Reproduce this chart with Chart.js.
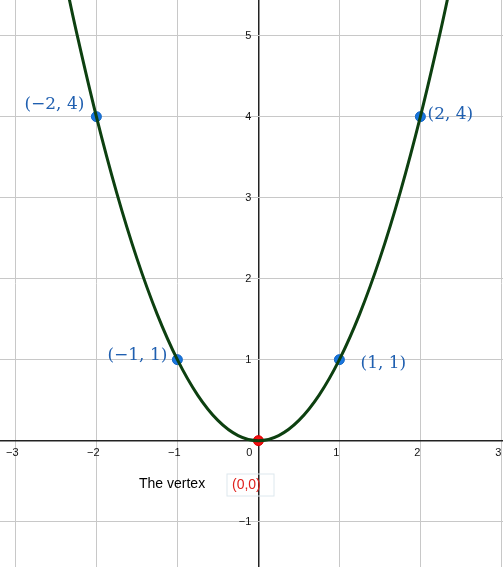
<!DOCTYPE html>
<html><head><meta charset="utf-8">
<script src="https://cdn.jsdelivr.net/npm/chart.js@4"></script>
<style>html,body{margin:0;padding:0;background:#fff}#wrap{width:503px;height:567px}</style>
</head><body><div id="wrap"><canvas id="c"></canvas></div>
<script>
// curve samples
const curveX = [-2.4, -2.25, -2, -1.75, -1.5, -1.25, -1, -0.75, -0.5, -0.25, 0, 0.25, 0.5, 0.75, 1, 1.25, 1.5, 1.75, 2, 2.25, 2.4];
const curveY = [5.76, 5.0625, 4, 3.0625, 2.25, 1.5625, 1, 0.5625, 0.25, 0.0625, 0, 0.0625, 0.25, 0.5625, 1, 1.5625, 2.25, 3.0625, 4, 5.0625, 5.76];
const pointX = [-2, -1, 1, 2];
const pointY = [4, 1, 1, 4];
const pointLabels = ['(−2, 4)', '(−1, 1)', '(1, 1)', '(2, 4)'];
const xTicks = [-3, -2, -1, 0, 1, 2, 3];
const yTicks = [-1, 1, 2, 3, 4, 5];
const xGrid = [-3, -2, -1, 0, 1, 2, 3];
const yGrid = [-1, 0, 1, 2, 3, 4, 5];

const labelPlugin = {
    id: 'labels',
    afterDatasetsDraw(chart) {
        const ctx = chart.ctx;
        const xs = chart.scales.x, ys = chart.scales.y;
        const x0 = xs.getPixelForValue(0), y0 = ys.getPixelForValue(0);
        ctx.save();
        ctx.fillStyle = '#111';
        ctx.font = '11px "Liberation Sans", Arial';
        ctx.textAlign = 'center';
        ctx.textBaseline = 'middle';
        xTicks.forEach(v => {
            const t = v < 0 ? '−' + (-v) : String(v);
            ctx.fillText(t, xs.getPixelForValue(v) - (v === 0 ? 9 : 3), y0 + 12);
        });
        ctx.textAlign = 'right';
        yTicks.forEach(v => {
            const t = v < 0 ? '−' + (-v) : String(v);
            ctx.fillText(t, x0 - 7, ys.getPixelForValue(v));
        });
        ctx.font = '17px "DejaVu Serif", serif';
        ctx.fillStyle = '#1f5fb0';
        const off = [[-42, -12], [-40, -4], [44, 4], [30, -2]];
        pointLabels.forEach((t, i) => {
            ctx.textAlign = 'center';
            ctx.fillText(t, xs.getPixelForValue(pointX[i]) + off[i][0], ys.getPixelForValue(pointY[i]) + off[i][1]);
        });
        ctx.font = '14px "Liberation Sans", Arial';
        ctx.fillStyle = '#000';
        ctx.textAlign = 'left';
        ctx.fillText('The vertex', 139, 484);
        ctx.strokeStyle = '#dde8ee';
        ctx.strokeRect(227, 474, 47, 22);
        ctx.fillStyle = '#e0201c';
        ctx.fillText('(0,0)', 232, 485);
        ctx.restore();
    }
};

const gridOpts = { color: c => c.tick.value === 0 ? '#222' : '#c8c8c8', lineWidth: c => c.tick.value === 0 ? 1.5 : 1, drawTicks: false };

new Chart(document.getElementById('c'), {
    type: 'scatter',
    data: {
        datasets: [{
            type: 'line',
            data: curveX.map((x, i) => ({ x, y: curveY[i] })),
            borderColor: '#0d4010',
            borderWidth: 3,
            pointRadius: 0,
            tension: 0.4
        }, {
            data: pointX.map((x, i) => ({ x, y: pointY[i] })),
            backgroundColor: '#1976e0',
            borderColor: '#1565c0',
            pointRadius: 5
        }, {
            data: [{ x: 0, y: 0 }],
            backgroundColor: '#f01010',
            borderColor: '#e00000',
            pointRadius: 5
        }]
    },
    options: {
        responsive: true,
        maintainAspectRatio: false,
        animation: false,
        layout: { padding: 0, autoPadding: false },
        plugins: { legend: { display: false }, tooltip: { enabled: false } },
        scales: {
            x: {
                type: 'linear', min: -3.19, max: 3.02,
                afterBuildTicks: s => { s.ticks = xGrid.map(v => ({ value: v })); },
                ticks: { display: false },
                border: { display: false },
                grid: gridOpts
            },
            y: {
                type: 'linear', min: -1.56, max: 5.44,
                afterBuildTicks: s => { s.ticks = yGrid.map(v => ({ value: v })); },
                ticks: { display: false },
                border: { display: false },
                grid: gridOpts
            }
        }
    },
    plugins: [labelPlugin]
});
</script></body></html>
